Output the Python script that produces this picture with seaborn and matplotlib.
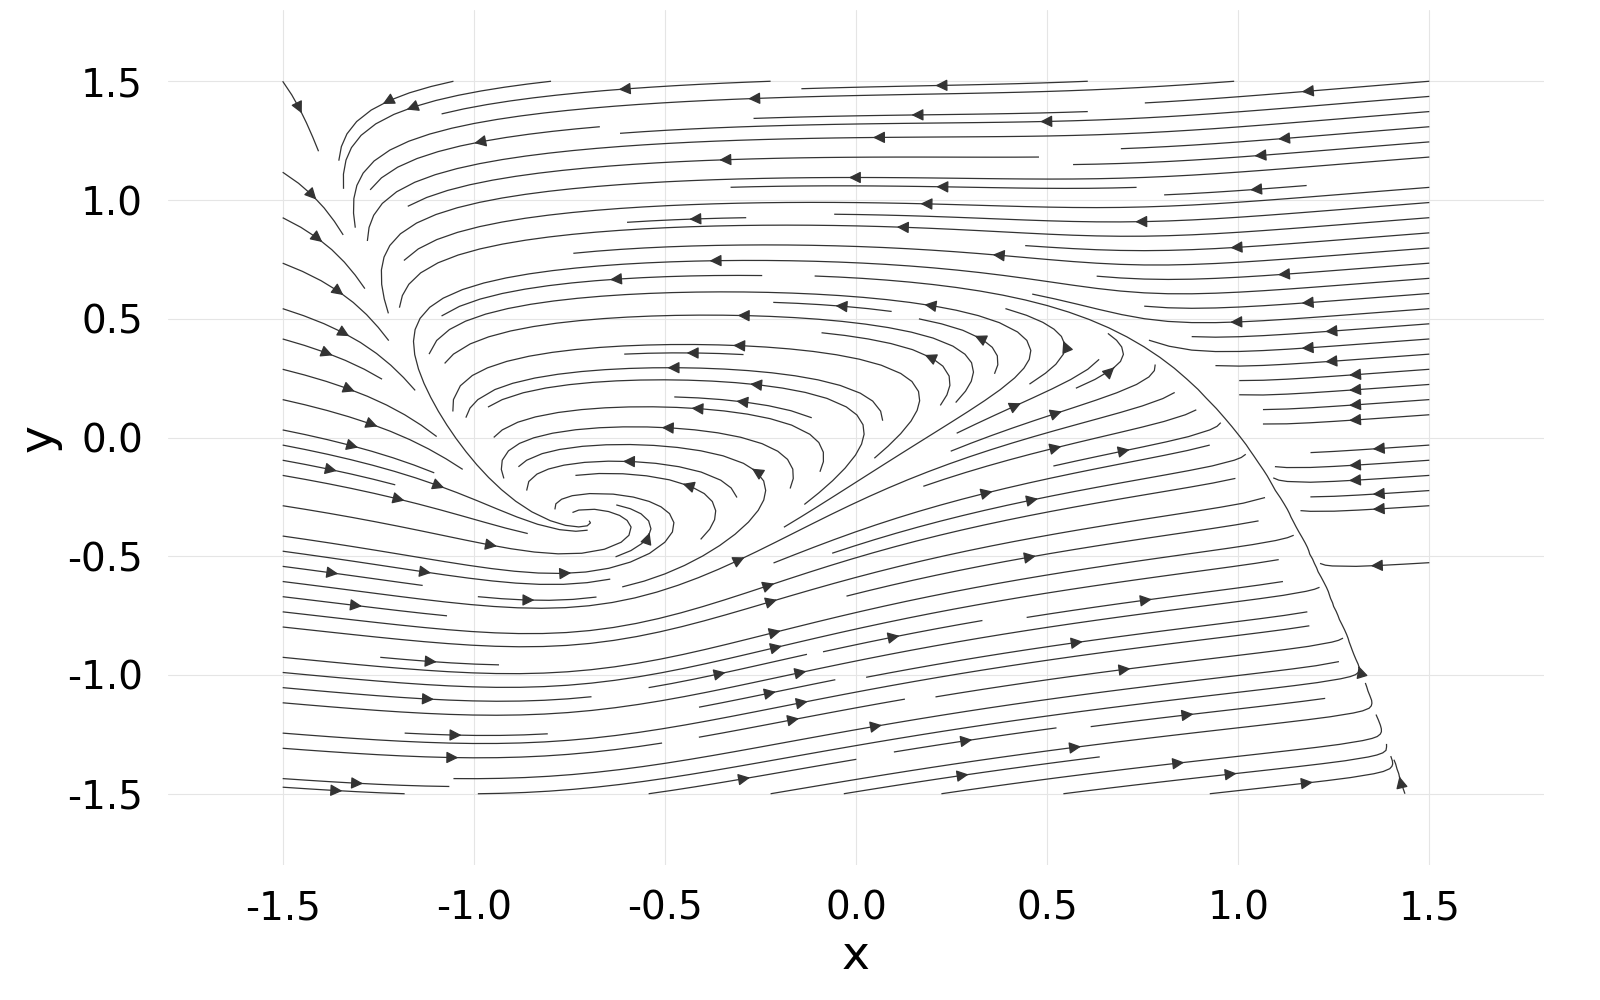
import numpy as np
import matplotlib
matplotlib.use("Agg")
import matplotlib.pyplot as plt
import seaborn as sns

sns.set_theme(style="whitegrid")
plt.rcParams['font.family'] = ['DejaVu Sans']

x_vals = np.linspace(-1.5, 1.5, 60)
y_vals = np.linspace(-1.5, 1.5, 60)
tick_vals = [-1.5, -1.0, -0.5, 0.0, 0.5, 1.0, 1.5]
tick_labels = ["-1.5", "-1.0", "-0.5", "0.0", "0.5", "1.0", "1.5"]

X, Y = np.meshgrid(x_vals, y_vals)
U = X - X**3 - Y
V = 0.25 * (X + 0.7) * (1.2 - X) - 0.15 * (Y + 0.3)

fig, ax = plt.subplots(figsize=(16, 10), dpi=100)
ax.streamplot(X, Y, U, V, density=1.6, color="#333333", linewidth=0.9,
              arrowsize=1.8, arrowstyle="-|>")
ax.set_xlim(-1.8, 1.8)
ax.set_ylim(-1.8, 1.8)
ax.set_xticks(tick_vals)
ax.set_xticklabels(tick_labels)
ax.set_yticks(tick_vals)
ax.set_yticklabels(tick_labels)
ax.tick_params(labelsize=28, labelcolor="black", pad=12)
ax.set_xlabel("x", fontsize=34, color="black")
ax.set_ylabel("y", fontsize=34, color="black")
ax.grid(color="#e5e5e5", linewidth=0.8)
for s in ax.spines.values():
    s.set_visible(False)
fig.subplots_adjust(left=0.105, right=0.965, top=0.99, bottom=0.135)
fig.savefig("out.png")
